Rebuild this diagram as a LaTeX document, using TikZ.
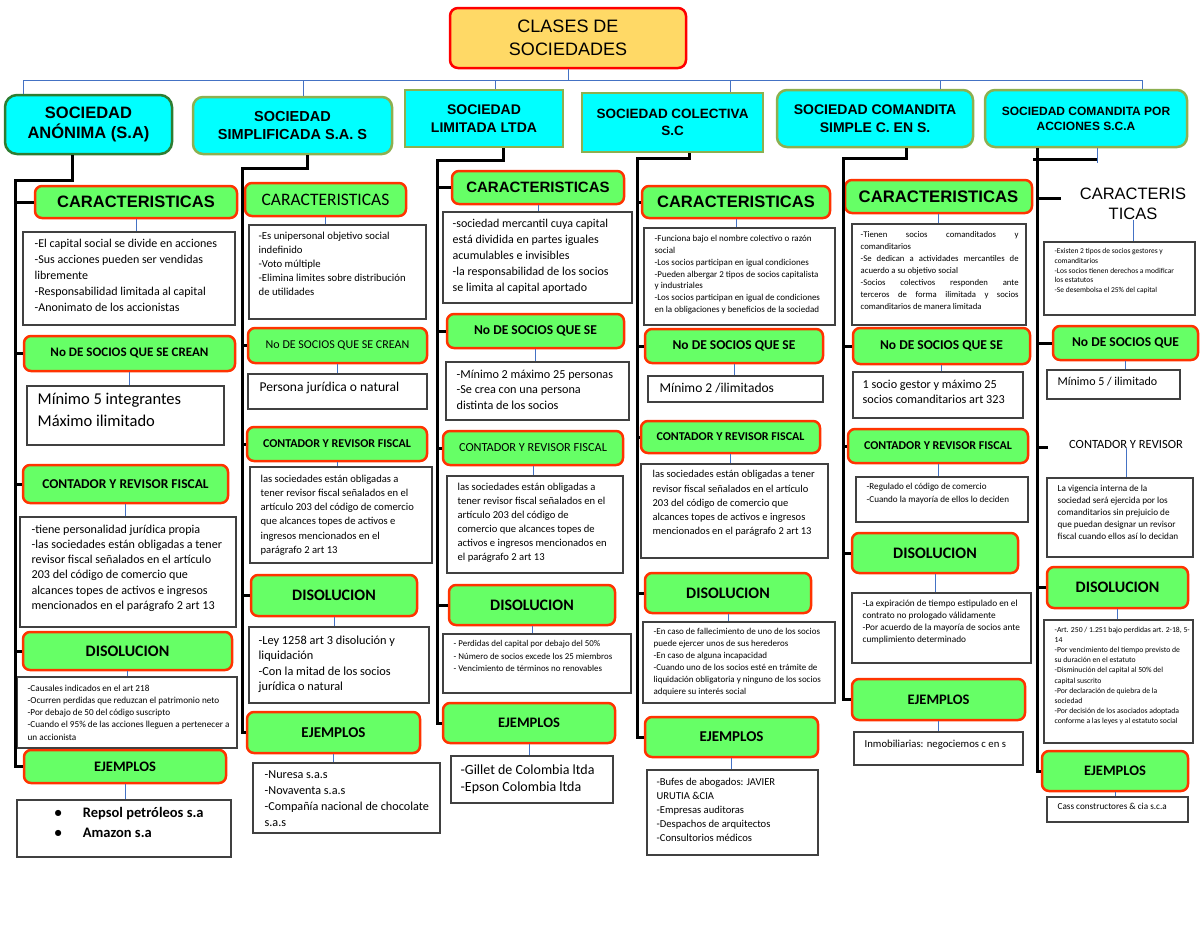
\documentclass[tikz,border=0pt]{standalone}
\usepackage{fontspec}
\setmainfont{Carlito}
\newfontfamily\arial{Liberation Sans}
\usetikzlibrary{calc}
\definecolor{gfill}{HTML}{66FF66}
\definecolor{gline}{HTML}{FF3300}
\definecolor{cyanf}{HTML}{00FFFF}
\definecolor{hdark}{HTML}{2E7D32}
\definecolor{holive}{HTML}{8DB050}
\definecolor{tfill}{HTML}{FFD966}
\definecolor{tline}{HTML}{FF0000}
\definecolor{conn}{HTML}{4472C4}
\newcommand{\bx}[7]{\node[#6, minimum width={(#4-#2)*1pt}, minimum height={(#5-#3)*1pt}] (#1) at ({(#2+#4)/2},{(#3+#5)/2}) {#7};}
\newcommand{\tx}[9]{\bx{#1}{#2}{#3}{#4}{#5}{wnode}{}
 \node[anchor=north west, inner sep=0pt, align=left, font=\fontsize{#6}{#7}\selectfont] (#1x) at ($(#1.north west)+(#8)$) {#9};}
\newcommand{\gf}[1]{\bfseries\fontsize{#1}{#1}\selectfont}
\begin{document}
\begin{tikzpicture}[x=1pt,y=-1pt,
 gnode/.style={draw=gline, fill=gfill, line width=2.5pt, rounded corners=7pt, inner sep=0pt, align=center},
 wnode/.style={draw=black!75, line width=1.1pt, fill=white, inner sep=0pt},
 hnode/.style={fill=cyanf, line width=2.5pt, inner sep=0pt, align=center},
 tree/.style={line width=3pt, black},
 bl/.style={draw=conn, line width=0.9pt}]
\useasboundingbox[fill=white] (0,0) rectangle (1200,927);
% bus coordinates
\coordinate (d1) at (23,80);
\coordinate (d2) at (303,80);
\coordinate (d3) at (495,80);
\coordinate (d4) at (730,80);
\coordinate (d5) at (940,80);
\coordinate (d6) at (1142,80);
\draw[bl] (d1) -- (d6);
% title
\bx{title}{450}{8}{686}{68}{draw=tline, fill=tfill, line width=2.5pt, rounded corners=8pt, align=center, inner sep=0pt, font=\arial\fontsize{18}{23}\selectfont}{CLASES DE\\SOCIEDADES}
\draw[bl] (title.south) -- (title.south |- d1);
% headers
\bx{h1}{5}{95}{172}{154}{hnode,draw=hdark,rounded corners=12pt,font=\arial\bfseries\fontsize{16.5}{20}\selectfont}{SOCIEDAD\\ANÓNIMA (S.A)}
\bx{h2}{193}{97}{392}{154}{hnode,draw=holive,rounded corners=10pt,font=\arial\bfseries\fontsize{14.5}{18}\selectfont}{SOCIEDAD\\SIMPLIFICADA S.A. S}
\bx{h3}{405}{90}{563}{147}{hnode,draw=holive,font=\arial\bfseries\fontsize{14}{18}\selectfont}{SOCIEDAD\\LIMITADA LTDA}
\bx{h4}{582}{93}{763}{152}{hnode,draw=holive,font=\arial\bfseries\fontsize{13.5}{17}\selectfont}{SOCIEDAD COLECTIVA\\S.C}
\bx{h5}{777}{90}{973}{147}{hnode,draw=holive,rounded corners=10pt,font=\arial\bfseries\fontsize{14}{18}\selectfont}{SOCIEDAD COMANDITA\\SIMPLE C. EN S.}
\bx{h6}{985}{90}{1187}{147}{hnode,draw=holive,rounded corners=10pt,font=\arial\bfseries\fontsize{12}{15}\selectfont}{SOCIEDAD COMANDITA POR\\ACCIONES S.C.A}
\foreach \i in {1,...,6} \draw[bl] (d\i) -- (d\i |- h\i.north);

% ---------- column 1
\bx{c1car}{35}{186}{237}{218}{gnode,font=\arial\gf{16.5}}{CARACTERISTICAS}
\bx{c1soc}{24}{336}{235}{371}{gnode,font=\gf{13}}{No DE SOCIOS QUE SE CREAN}
\bx{c1con}{23}{465}{228}{503}{gnode,font=\gf{13.5}}{CONTADOR Y REVISOR FISCAL}
\bx{c1dis}{23}{632}{232}{670}{gnode,font=\gf{16}}{DISOLUCION}
\bx{c1ej}{24}{750}{226}{783}{gnode,font=\gf{14.5}}{EJEMPLOS}
\tx{c1t1}{23}{232}{235}{325}{12}{16}{12,8}{-El capital social se divide en acciones\\-Sus acciones pueden ser vendidas\\libremente\\-Responsabilidad limitada al capital\\-Anonimato de los accionistas}
\tx{c1t2}{27}{386}{224}{445}{16.5}{22}{11,7}{Mínimo 5 integrantes\\Máximo ilimitado}
\tx{c1t3}{20}{517}{236}{627}{12.1}{15.3}{12,8}{-tiene personalidad jurídica propia\\-las sociedades están obligadas a tener\\revisor fiscal señalados en el artículo\\203 del código de comercio que\\alcances topes de activos e ingresos\\mencionados en el parágrafo 2 art 13}
\tx{c1t4}{17}{677}{237}{748}{9.2}{12.3}{11,8}{-Causales indicados en el art 218\\-Ocurren perdidas que reduzcan el patrimonio neto\\-Por debajo de 50 del código suscripto\\-Cuando el 95\% de las acciones lleguen a pertenecer a\\un accionista}
\tx{c1t5}{17}{800}{231}{857}{14.5}{20}{38,8}{\bfseries\textbullet\hspace{21pt}Repsol petróleos s.a\\\bfseries\textbullet\hspace{21pt}Amazon s.a}
\coordinate (k1h) at (72,180);
\coordinate (k1t) at (15,180);
\draw[tree] (k1h |- h1.south) -- (k1h) -- (k1t) -- (k1t |- c1ej.west) -- (c1ej.west);
\foreach \n in {c1car,c1soc,c1con,c1dis} \draw[tree] (k1t |- \n.west) -- (\n.west);

% ---------- column 2
\bx{c2car}{245}{183}{406}{216}{gnode,font=\fontsize{17.5}{17.5}\selectfont}{CARACTERISTICAS}
\bx{c2soc}{248}{328}{427}{363}{gnode,font=\fontsize{12}{12}\selectfont}{No DE SOCIOS QUE SE CREAN}
\bx{c2con}{247}{427}{427}{461}{gnode,font=\gf{12}}{CONTADOR Y REVISOR FISCAL}
\bx{c2dis}{251}{575}{417}{616}{gnode,font=\gf{16}}{DISOLUCION}
\bx{c2ej}{247}{712}{420}{753}{gnode,font=\gf{15}}{EJEMPLOS}
\tx{c2t1}{249}{225}{426}{319}{10.7}{14}{10,7}{-Es unipersonal objetivo social\\indefinido\\-Voto múltiple\\-Elimina limites sobre distribución\\de utilidades}
\tx{c2t2}{248}{374}{427}{409}{13.5}{15}{12,8}{Persona jurídica o natural}
\tx{c2t3}{250}{467}{432}{563}{10.6}{14.3}{11,8}{las sociedades están obligadas a\\tener revisor fiscal señalados en el\\artículo 203 del código de comercio\\que alcances topes de activos e\\ingresos mencionados en el\\parágrafo 2 art 13}
\tx{c2t4}{249}{627}{429}{703}{12.3}{15.5}{10,9}{-Ley 1258 art 3 disolución y\\liquidación\\-Con la mitad de los socios\\jurídica o natural}
\tx{c2t5}{253}{763}{440}{833}{12.2}{16}{12,8}{-Nuresa s.a.s\\-Novaventa s.a.s\\-Compañía nacional de chocolate\\s.a.s}
\coordinate (k2h) at (307,168);
\coordinate (k2t) at (242,168);
\draw[tree] (k2h |- h2.south) -- (k2h) -- (k2t) -- (k2t |- c2ej.west) -- (c2ej.west);
\foreach \n in {c2car,c2soc,c2con,c2dis} \draw[tree] (k2t |- \n.west) -- (\n.west);

% ---------- column 3
\bx{c3car}{452}{171}{624}{204}{gnode,font=\arial\gf{15}}{CARACTERISTICAS}
\bx{c3soc}{447}{314}{624}{348}{gnode,font=\gf{13.5}}{No DE SOCIOS QUE SE}
\bx{c3con}{443}{431}{623}{465}{gnode,font=\fontsize{12.3}{12.3}\selectfont}{CONTADOR Y REVISOR FISCAL}
\bx{c3dis}{449}{585}{615}{625}{gnode,font=\gf{16}}{DISOLUCION}
\bx{c3ej}{443}{703}{615}{743}{gnode,font=\gf{14.5}}{EJEMPLOS}
\tx{c3t1}{443}{212}{632}{303}{12}{15.8}{10,8}{-sociedad mercantil cuya capital\\está dividida en partes iguales\\acumulables e invisibles\\-la responsabilidad de los socios\\se limita al capital aportado}
\tx{c3t2}{446}{362}{629}{420}{12.2}{15.8}{11,8}{-Mínimo 2 máximo 25 personas\\-Se crea con una persona\\distinta de los socios}
\tx{c3t3}{447}{476}{623}{573}{10.6}{14}{11,7}{las sociedades están obligadas a\\tener revisor fiscal señalados en el\\artículo 203 del código de\\comercio que alcances topes de\\activos e ingresos mencionados en\\el parágrafo 2 art 13}
\tx{c3t4}{443}{634}{631}{693}{8.9}{12.5}{11,7}{- Perdidas del capital por debajo del 50\%\\- Número de socios excede los 25 miembros\\- Vencimiento de términos no renovables}
\tx{c3t5}{451}{756}{613}{803}{14}{17}{10,9}{-Gillet de Colombia ltda\\-Epson Colombia ltda}
\coordinate (k3h) at (503,160);
\coordinate (k3t) at (437,160);
\draw[tree] (k3h |- h3.south) -- (k3h) -- (k3t) -- (k3t |- c3ej.west) -- (c3ej.west);
\foreach \n in {c3car,c3soc,c3con,c3dis} \draw[tree] (k3t |- \n.west) -- (\n.west);

% ---------- column 4
\bx{c4car}{642}{186}{830}{218}{gnode,font=\arial\gf{16.5}}{CARACTERISTICAS}
\bx{c4soc}{645}{329}{823}{363}{gnode,font=\gf{13.5}}{No DE SOCIOS QUE SE}
\bx{c4con}{641}{421}{820}{453}{gnode,font=\gf{12}}{CONTADOR Y REVISOR FISCAL}
\bx{c4dis}{645}{573}{811}{613}{gnode,font=\gf{16}}{DISOLUCION}
\bx{c4ej}{645}{717}{818}{757}{gnode,font=\gf{15}}{EJEMPLOS}
\tx{c4t1}{644}{228}{835}{325}{9}{11.7}{11,8}{-Funciona bajo el nombre colectivo o razón\\social\\-Los socios participan en igual condiciones\\-Pueden albergar 2 tipos de socios capitalista\\y industriales\\-Los socios participan en igual de condiciones\\en la obligaciones y beneficios de la sociedad}
\tx{c4t2}{648}{376}{823}{402}{13.5}{15}{12,7}{Mínimo 2 /ilimitados}
\tx{c4t3}{641}{464}{828}{558}{10.5}{14.2}{12,7}{las sociedades están obligadas a tener\\revisor fiscal señalados en el artículo\\203 del código de comercio que\\alcances topes de activos e ingresos\\mencionados en el parágrafo 2 art 13}
\tx{c4t4}{643}{622}{835}{703}{9}{12}{11,7}{-En caso de fallecimiento de uno de los socios\\puede ejercer unos de sus herederos\\-En caso de alguna incapacidad\\-Cuando uno de los socios esté en trámite de\\liquidación obligatoria y ninguno de los socios\\adquiere su interés social}
\tx{c4t5}{647}{770}{818}{855}{10.6}{14}{10,8}{-Bufes de abogados: JAVIER\\URUTIA \&CIA\\-Empresas auditoras\\-Despachos de arquitectos\\-Consultorios médicos}
\coordinate (k4h) at (689,158);
\coordinate (k4t) at (637,158);
\draw[tree] (k4h |- h4.south) -- (k4h) -- (k4t) -- (k4t |- c4ej.west) -- (c4ej.west);
\foreach \n in {c4car,c4soc,c4con,c4dis} \draw[tree] (k4t |- \n.west) -- (\n.west);

% ---------- column 5
\bx{c5car}{845}{180}{1032}{213}{gnode,font=\arial\gf{16.7}}{CARACTERISTICAS}
\bx{c5soc}{853}{328}{1030}{364}{gnode,font=\gf{13.5}}{No DE SOCIOS QUE SE}
\bx{c5con}{848}{429}{1028}{463}{gnode,font=\gf{12}}{CONTADOR Y REVISOR FISCAL}
\bx{c5dis}{852}{533}{1018}{573}{gnode,font=\gf{16}}{DISOLUCION}
\bx{c5ej}{852}{679}{1025}{720}{gnode,font=\gf{14.5}}{EJEMPLOS}
\bx{c5t1}{852}{224}{1026}{325}{wnode}{}
\node[anchor=north west, inner sep=0pt, text width=158pt, align=justify, font=\fontsize{8.7}{12}\selectfont] (c5t1x) at ($(c5t1.north west)+(9,8)$) {-Tienen socios comanditados y\linebreak comanditarios\newline -Se dedican a actividades mercantiles de\linebreak acuerdo a su objetivo social\newline -Socios colectivos responden ante\linebreak terceros de forma ilimitada y socios\linebreak comanditarios de manera limitada};
\tx{c5t2}{853}{372}{1023}{418}{12.2}{15.7}{10,8}{1 socio gestor y máximo 25\\socios comanditarios art 323}
\tx{c5t3}{856}{477}{1028}{522}{9.1}{12.3}{11,7}{-Regulado el código de comercio\\-Cuando la mayoría de ellos lo deciden}
\tx{c5t4}{852}{593}{1031}{663}{9.3}{12.2}{11,7}{-La expiración de tiempo estipulado en el\\contrato no prologado válidamente\\-Por acuerdo de la mayoría de socios ante\\cumplimiento determinado}
\tx{c5t5}{854}{732}{1023}{765}{10.7}{13}{11,8}{Inmobiliarias: negociemos c en s}
\coordinate (k5h) at (906,158);
\coordinate (k5t) at (843,158);
\draw[tree] (k5h |- h5.south) -- (k5h) -- (k5t) -- (k5t |- c5ej.west) -- (c5ej.west);
\foreach \n in {c5car,c5soc,c5con,c5dis} \draw[tree] (k5t |- \n.west) -- (\n.west);

% ---------- column 6
\node[align=center, inner sep=0pt, font=\arial\fontsize{16.5}{20}\selectfont] (c6car) at (1133,204) {CARACTERIS\\TICAS};
\bx{c6soc}{1053}{326}{1198}{360}{gnode,font=\gf{13.5}}{No DE SOCIOS QUE}
\node[inner sep=0pt, font=\fontsize{12.5}{12.5}\selectfont] (c6con) at (1126,444) {CONTADOR Y REVISOR};
\bx{c6dis}{1047}{567}{1188}{608}{gnode,font=\gf{16}}{DISOLUCION}
\bx{c6ej}{1042}{751}{1188}{791}{gnode,font=\gf{14.5}}{EJEMPLOS}
\tx{c6t1}{1044}{242}{1195}{315}{7.5}{9.6}{11,7}{-Existen 2 tipos de socios gestores y\\comanditarios\\-Los socios tienen derechos a modificar\\los estatutos\\-Se desembolsa el 25\% del capital}
\tx{c6t2}{1047}{370}{1180}{399}{12}{14}{11,8}{Mínimo 5 / ilimitado}
\tx{c6t3}{1047}{478}{1193}{557}{9.2}{12}{11,7}{La vigencia interna de la\\sociedad será ejercida por los\\comanditarios sin prejuicio de\\que puedan designar un revisor\\fiscal cuando ellos así lo decidan}
\tx{c6t4}{1044}{620}{1193}{743}{7.7}{10.2}{11,7}{-Art. 250 / 1.251 bajo perdidas art. 2-18, 5-\\14\\-Por vencimiento del tiempo previsto de\\su duración en el estatuto\\-Disminución del capital al 50\% del\\capital suscrito\\-Por declaración de quiebra de la\\sociedad\\-Por decisión de los asociados adoptada\\conforme a las leyes y al estatuto social}
\tx{c6t5}{1047}{797}{1188}{822}{9.2}{11}{11,7}{Cass constructores \& cia s.c.a}
\coordinate (k6h) at (1097,159);
\coordinate (k6t) at (1033,159);
\coordinate (k6v) at (1037,159);
\coordinate (c6carb) at (1061,198);
\coordinate (c6conb) at (1048,447);
\draw[bl] (k6h |- h6.south) -- ([yshift=-4pt]k6h);
\draw[tree] (k6h) -- (k6t);
\draw[tree] (k6v |- h6.south) -- (k6v |- c6ej.west) -- (c6ej.west);
\draw[tree] (k6v |- c6carb) -- (c6carb);
\draw[tree] (k6v |- c6conb) -- (c6conb);
\foreach \n in {c6soc,c6dis} \draw[tree] (k6v |- \n.west) -- (\n.west);

% ---------- blue links green -> text
\foreach \g/\t in {c1car/c1t1,c1soc/c1t2,c1con/c1t3,c1dis/c1t4,c1ej/c1t5,
  c2car/c2t1,c2soc/c2t2,c2con/c2t3,c2dis/c2t4,c2ej/c2t5,
  c3car/c3t1,c3soc/c3t2,c3con/c3t3,c3dis/c3t4,c3ej/c3t5,
  c4car/c4t1,c4soc/c4t2,c4con/c4t3,c4dis/c4t4,c4ej/c4t5,
  c5car/c5t1,c5soc/c5t2,c5con/c5t3,c5dis/c5t4,c5ej/c5t5,
  c6car/c6t1,c6soc/c6t2,c6con/c6t3,c6dis/c6t4,c6ej/c6t5}
  \draw[bl] (\g.south) -- (\g.south |- \t.north);
\end{tikzpicture}
\end{document}
